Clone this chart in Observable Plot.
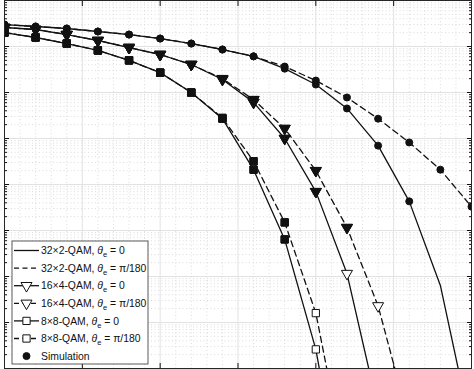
<!DOCTYPE html>
<html><head><meta charset="utf-8">
<script src="https://cdn.jsdelivr.net/npm/d3@7"></script>
<script src="https://cdn.jsdelivr.net/npm/@observablehq/plot@0.6"></script>
<style>
body{margin:0;background:#fff}
#chart{position:relative;width:474px;height:369px;overflow:hidden}
</style>
</head><body><div id="chart"></div>
<script>
// SNR points (dB)
const snr = [0, 2, 4, 6, 8, 10, 12, 14, 16, 18, 20, 22, 24, 26, 28, 30];
// BER / SER values
const ber32_0  = [0.30, 0.272, 0.246, 0.212, 0.182, 0.149, 0.116, 0.086, 0.061, 0.033, 0.0149, 0.0045, 7.0e-4, 4.3e-5, 6.4e-7, 4.5e-10];
const ber32_pi = [0.30, 0.272, 0.246, 0.212, 0.182, 0.149, 0.116, 0.086, 0.061, 0.0367, 0.0182, 0.0078, 0.0027, 8.2e-4, 2.1e-4, 3.3e-5];
const ber16_0  = [0.259, 0.234, 0.182, 0.135, 0.095, 0.067, 0.0406, 0.0192, 0.0061, 1.0e-3, 7.0e-5, 1.16e-6, 1.3e-9];
const ber16_pi = [0.259, 0.234, 0.182, 0.135, 0.095, 0.067, 0.0406, 0.0200, 0.0070, 1.65e-3, 2.0e-4, 1.16e-5, 2.3e-7, 6.7e-10];
const ber8_0   = [0.201, 0.157, 0.116, 0.082, 0.050, 0.027, 0.0100, 0.0027, 2.1e-4, 6.4e-6, 2.6e-8, 5.0e-12];
const ber8_pi  = [0.201, 0.157, 0.116, 0.082, 0.050, 0.027, 0.0100, 0.0028, 3.2e-4, 1.5e-5, 1.6e-7, 6.0e-11];
// simulation shown down to this level
const simFloor = 2e-6;

// axis ticks
const xMajor = [0, 5, 10, 15, 20, 25, 30];
const xMinor = [1,2,3,4,6,7,8,9,11,12,13,14,16,17,18,19,21,22,23,24,26,27,28,29];
const yDecades = [-8, -7, -6, -5, -4, -3, -2, -1, 0];
const yMajor = yDecades.map(e => Math.pow(10, e));
const yMinor = yDecades.slice(0, -1).flatMap(e => [2,3,4,5,6,7,8,9].map(k => k * Math.pow(10, e)));

const series = [
  {label: "32×2-QAM", theta: "0",     ber: ber32_0,  dash: null,  symbol: "circle",   analytic: false, rotate: 0,   r: 3.5},
  {label: "32×2-QAM", theta: "π/180", ber: ber32_pi, dash: "6,4", symbol: "circle",   analytic: false, rotate: 0,   r: 3.5},
  {label: "16×4-QAM", theta: "0",     ber: ber16_0,  dash: null,  symbol: "triangle", analytic: true,  rotate: 180, r: 4.1},
  {label: "16×4-QAM", theta: "π/180", ber: ber16_pi, dash: "6,4", symbol: "triangle", analytic: true,  rotate: 180, r: 4.1},
  {label: "8×8-QAM",  theta: "0",     ber: ber8_0,   dash: null,  symbol: "square",   analytic: true,  rotate: 0,   r: 4.1},
  {label: "8×8-QAM",  theta: "π/180", ber: ber8_pi,  dash: "6,4", symbol: "square",   analytic: true,  rotate: 0,   r: 4.1}
];

const ink = "#111";
const marks = [
  Plot.gridX(xMinor, {stroke: "#dcdcdc", strokeOpacity: 1, strokeDasharray: "1,2.5"}),
  Plot.gridY(yMinor, {stroke: "#dcdcdc", strokeOpacity: 1, strokeDasharray: "1,2.5"}),
  Plot.gridX(xMajor, {stroke: "#e2e2e2", strokeOpacity: 1}),
  Plot.gridY(yMajor, {stroke: "#e2e2e2", strokeOpacity: 1})
];
series.forEach(s => {
  const rows = s.ber.map((b, j) => ({snr: snr[j], ber: b}));
  marks.push(Plot.line(rows, {x: "snr", y: "ber", stroke: ink, strokeWidth: 1.3, strokeDasharray: s.dash, clip: true}));
});
series.forEach(s => {
  const rows = s.ber.map((b, j) => ({snr: snr[j], ber: b}));
  if (s.analytic) {
    marks.push(Plot.dot(rows, {x: "snr", y: "ber", symbol: s.symbol, rotate: s.rotate, r: s.r, fill: "white", stroke: ink, strokeWidth: 1, clip: true}));
  }
  marks.push(Plot.dot(rows.filter(d => d.ber >= simFloor), {x: "snr", y: "ber", symbol: s.symbol, rotate: s.rotate, r: s.r, fill: ink, stroke: ink, strokeWidth: 1, clip: true}));
});
const noText = () => "";
marks.push(
  Plot.axisX(xMajor, {anchor: "top", tickSize: -5, tickFormat: noText, label: null, stroke: ink}),
  Plot.axisX(xMajor, {anchor: "bottom", tickSize: -5, tickFormat: noText, label: null, stroke: ink}),
  Plot.axisY(yMajor, {anchor: "left", tickSize: -5, tickFormat: noText, label: null, stroke: ink}),
  Plot.axisY(yMinor, {anchor: "left", tickSize: -3, tickFormat: noText, label: null, stroke: ink}),
  Plot.axisY(yMajor, {anchor: "right", tickSize: -5, tickFormat: noText, label: null, stroke: ink}),
  Plot.axisY(yMinor, {anchor: "right", tickSize: -3, tickFormat: noText, label: null, stroke: ink}),
  Plot.frame({stroke: "#262626", strokeWidth: 1})
);

const chart = Plot.plot({
  width: 474, height: 369,
  marginLeft: 4, marginRight: 3, marginTop: 0, marginBottom: 1,
  x: {domain: [0, 30]},
  y: {type: "log", domain: [1e-8, 1]},
  style: {fontFamily: "'Liberation Sans', Arial, sans-serif", background: "white"},
  marks
});
document.getElementById("chart").appendChild(chart);

// legend inside the axes (bottom-left)
const svg = d3.select(chart);
const legendRows = series.map(s => ({label: s.label, theta: s.theta, dash: s.dash, symbol: s.analytic ? s.symbol : null, rotate: s.rotate, r: s.r, filled: false, line: true}))
  .concat([{label: "Simulation", theta: null, dash: null, symbol: "circle", rotate: 0, r: 3.5, filled: true, line: false}]);
const symbolMap = {circle: d3.symbolCircle, triangle: d3.symbolTriangle, square: d3.symbolSquare};
const lg = svg.append("g").attr("transform", "translate(12,241)")
  .attr("font-family", "'Liberation Sans', Arial, sans-serif").attr("font-size", 10.4)
  .attr("text-anchor", "start");
lg.append("rect").attr("width", 136).attr("height", 123).attr("fill", "white").attr("stroke", "#333").attr("stroke-width", 0.8);
legendRows.forEach((d, i) => {
  const y = 9.5 + i * 17.6;
  const row = lg.append("g").attr("transform", `translate(0,${y})`);
  if (d.line) {
    row.append("line").attr("x1", 2).attr("x2", 27).attr("y1", 0).attr("y2", 0)
      .attr("stroke", ink).attr("stroke-width", 1.3).attr("stroke-dasharray", d.dash ? "5,3.5" : null);
  }
  if (d.symbol) {
    row.append("path")
      .attr("d", d3.symbol(symbolMap[d.symbol], Math.PI * d.r * d.r)())
      .attr("transform", `translate(14.5,0) rotate(${d.rotate})`)
      .attr("fill", d.filled ? ink : "white").attr("stroke", ink).attr("stroke-width", 1);
  }
  const t = row.append("text").attr("x", 29).attr("y", 0).attr("dy", "0.35em")
    .attr("text-anchor", "start").attr("fill", "#111");
  if (d.theta === null) {
    t.text(d.label);
  } else {
    t.append("tspan").text(d.label + ", ");
    t.append("tspan").attr("font-style", "italic").text("θ");
    t.append("tspan").attr("font-size", 7.5).attr("dy", 3).text("e");
    t.append("tspan").attr("dy", -3).text(" = " + d.theta);
  }
});
</script></body></html>
